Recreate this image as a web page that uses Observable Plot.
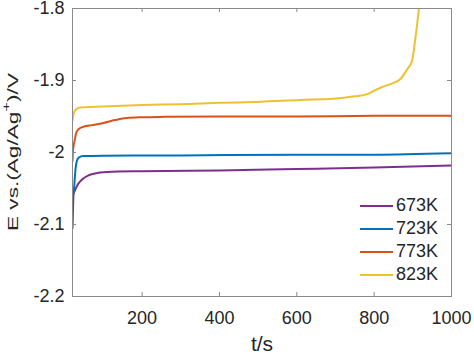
<!DOCTYPE html>
<html>
<head>
<meta charset="utf-8">
<script src="https://cdn.jsdelivr.net/npm/d3@7"></script>
<script src="https://cdn.jsdelivr.net/npm/@observablehq/plot@0.6"></script>
<style>
  html, body { margin: 0; padding: 0; background: #fff; }
  #wrap { position: relative; width: 474px; height: 354px; font-family: "Liberation Sans", Arial, sans-serif; color: #262626; }
  #legend { position: absolute; left: 360px; top: 194px; font-size: 18px; }
  #legend .row { display: flex; align-items: center; height: 23px; }
  #legend svg { margin-right: 3px; }
</style>
</head>
<body>
<div id="wrap"></div>
<script>
// ---- data ----
const seriesNames = ["673K", "723K", "773K", "823K"];
const seriesColors = ["#7E2F8E", "#0072BD", "#D95319", "#EDC230"];

const t673 = [20, 21, 22, 23, 27, 33, 40, 48, 60, 75, 110, 200, 400, 600, 800, 1000];
const v673 = [-2.105, -2.085, -2.065, -2.057, -2.052, -2.045, -2.04, -2.036, -2.032, -2.0295, -2.027, -2.026, -2.025, -2.023, -2.021, -2.018];

const t723 = [22, 24, 26, 28, 31, 36, 48, 100, 300, 600, 800, 1000];
const v723 = [-2.058, -2.05, -2.035, -2.022, -2.012, -2.007, -2.005, -2.0045, -2.004, -2.003, -2.003, -2.001];

const t773 = [20, 21, 23, 25, 28, 32, 40, 50, 70, 100, 130, 160, 200, 260, 400, 600, 800, 1000];
const v773 = [-2.012, -2.0, -1.99, -1.985, -1.976, -1.97, -1.966, -1.964, -1.962, -1.959, -1.955, -1.952, -1.951, -1.9505, -1.95, -1.95, -1.949, -1.949];

const t823 = [20, 22, 25, 32, 40, 100, 200, 300, 400, 506, 609, 695, 750, 782, 800, 821, 842, 868, 886, 898, 907, 916, 922];
const v823 = [-1.955, -1.948, -1.943, -1.939, -1.9375, -1.936, -1.934, -1.933, -1.931, -1.9296, -1.927, -1.9254, -1.922, -1.919, -1.914, -1.909, -1.905, -1.898, -1.884, -1.8725, -1.84, -1.8, -1.775];

const xTicks = [200, 400, 600, 800, 1000];
const xTickLabels = ["200", "400", "600", "800", "1000"];
const yTicks = [-1.8, -1.9, -2.0, -2.1, -2.2];
const yTickLabels = ["-1.8", "-1.9", "-2", "-2.1", "-2.2"];
const xLabel = "t/s";
const yLabelParts = ["E vs.(Ag/Ag", "+", ")/V"];

// ---- build table ----
const times = [t673, t723, t773, t823];
const vals = [v673, v723, v773, v823];
const data = seriesNames.flatMap((s, i) => times[i].map((t, j) => ({ t, v: vals[i][j], series: s })));

const W = 474, H = 354, mL = 72, mR = 23, mT = 8, mB = 58;
const innerW = W - mL - mR, innerH = H - mT - mB, tk = 4;
const axisColor = "#8a8a8a";

const chart = Plot.plot({
  width: W, height: H,
  marginLeft: mL, marginRight: mR, marginTop: mT, marginBottom: mB,
  style: { fontFamily: "'Liberation Sans', Arial, sans-serif", fontSize: "18px", color: "#262626", background: "#fff" },
  x: { domain: [20, 1000] },
  y: { domain: [-2.2, -1.8] },
  color: { domain: seriesNames, range: seriesColors },
  marks: [
    Plot.line(data, { x: "t", y: "v", z: "series", stroke: "series", strokeWidth: 2, curve: "monotone-x", clip: true }),
    Plot.frame({ stroke: axisColor }),
    Plot.tickX(xTicks, { x: d => d, insetTop: innerH - tk, stroke: axisColor }),
    Plot.tickX(xTicks, { x: d => d, insetBottom: innerH - tk, stroke: axisColor }),
    Plot.tickY(yTicks, { y: d => d, insetRight: innerW - tk, stroke: axisColor }),
    Plot.tickY(yTicks, { y: d => d, insetLeft: innerW - tk, stroke: axisColor }),
    Plot.axisX(xTicks, { tickSize: 0, tickPadding: 15, label: null, fontSize: 18, fill: "#262626",
      tickFormat: d => xTickLabels[xTicks.indexOf(d)] }),
    Plot.axisY(yTicks, { tickSize: 0, tickPadding: 8, label: null, fontSize: 18, fill: "#262626",
      tickFormat: d => yTickLabels[yTicks.indexOf(d)] }),
    Plot.text([xLabel], { text: d => d, frameAnchor: "bottom", dy: 54, lineAnchor: "bottom", fontSize: 21, fill: "#262626" })
  ]
});

const wrap = document.getElementById("wrap");
wrap.appendChild(chart);

// y-axis label with a superscript "+"
const svg = d3.select(chart);
const yl = svg.append("text")
  .attr("transform", `translate(17.5,${mT + innerH / 2}) rotate(-90)`)
  .attr("text-anchor", "middle")
  .attr("font-size", 15)
  .attr("fill", "#262626")
  .attr("textLength", 158)
  .attr("lengthAdjust", "spacingAndGlyphs");
yl.append("tspan").text(yLabelParts[0]);
yl.append("tspan").attr("font-size", 11).attr("dy", -8).text(yLabelParts[1]);
yl.append("tspan").attr("dy", 8).text(yLabelParts[2]);

// legend
const legend = d3.select(wrap).append("div").attr("id", "legend");
seriesNames.forEach((s, i) => {
  const row = legend.append("div").attr("class", "row");
  const sw = row.append("svg").attr("width", 33).attr("height", 4);
  sw.append("line").attr("x1", 0).attr("x2", 33).attr("y1", 2).attr("y2", 2)
    .attr("stroke", seriesColors[i]).attr("stroke-width", 2);
  row.append("span").text(s);
});
</script>
</body>
</html>
